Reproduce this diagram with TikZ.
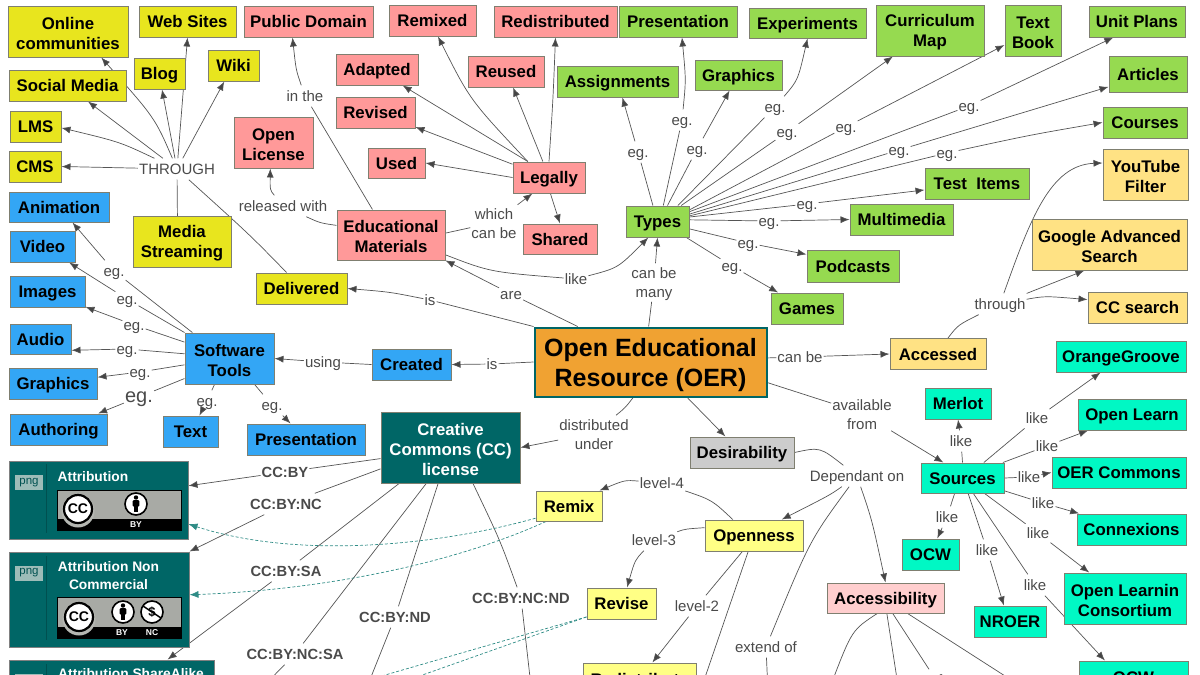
\documentclass[tikz,border=0pt]{standalone}
\usepackage{fontspec}
\setmainfont{Liberation Sans}
\usepackage{tikz}
\usetikzlibrary{positioning}
\usetikzlibrary{arrows.meta,backgrounds}

\definecolor{linegray}{HTML}{555555}
\definecolor{tipgray}{HTML}{444444}
\definecolor{lbltext}{HTML}{4A4A4A}
\definecolor{boxline}{HTML}{7F7F70}
\definecolor{ylwfill}{HTML}{E8E51E}
\definecolor{pnkfill}{HTML}{FF9999}
\definecolor{grnfill}{HTML}{96DA50}
\definecolor{palfill}{HTML}{FFE284}
\definecolor{cyafill}{HTML}{00F8C4}
\definecolor{blufill}{HTML}{33A6F5}
\definecolor{tealfill}{HTML}{006666}
\definecolor{tealdark}{HTML}{005050}
\definecolor{dashteal}{HTML}{2F8C86}
\definecolor{lemfill}{HTML}{FFFF85}
\definecolor{oerfill}{HTML}{F0A232}
\definecolor{rosefill}{HTML}{FFCECE}
\definecolor{pngfill}{HTML}{9DBCB8}
\definecolor{bdgfill}{HTML}{A8AAA5}

\newcommand{\boxfont}{\fontsize{16.8}{20}\selectfont\bfseries}
\newcommand{\lblfont}{\fontsize{15}{19}\selectfont}

\tikzset{
  sz/.style 2 args={minimum width=#1,minimum height=#2},
  evenlines/.style 2 args={execute at begin node={\rule{0pt}{#1pt}},execute at end node={\rule[-#2pt]{0pt}{#2pt}}},
  oerbox/.style={draw=boxline,line width=1pt,inner sep=0pt,align=center,font=\boxfont,text=black},
  oneln/.style={evenlines={17}{5}},
  ybox/.style={oerbox,fill=ylwfill},
  pbox/.style={oerbox,fill=pnkfill},
  gbox/.style={oerbox,fill=grnfill},
  obox/.style={oerbox,fill=palfill},
  cbox/.style={oerbox,fill=cyafill},
  bbox/.style={oerbox,fill=blufill},
  lbox/.style={oerbox,fill=lemfill},
  attbox/.style={draw=gray,line width=1pt,fill=tealfill,inner sep=0pt},
  atttitle/.style={text=white,inner sep=0pt,align=center,font=\fontsize{13.8}{17.5}\selectfont\bfseries},
  pnglbl/.style={fill=pngfill,text=tealdark,inner sep=0pt,sz={28}{15},font=\fontsize{11.5}{14}\selectfont},
  badge/.style={draw=black,line width=.8pt,fill=bdgfill,inner sep=0pt},
  bandtxt/.style={text=white,inner sep=0pt,font=\fontsize{8.5}{10}\selectfont\bfseries},
  twolb/.style={font=\lblfont,text=lbltext,inner sep=1pt,align=center},
  lbl/.style={twolb,evenlines={15}{4}},
  cclbl/.style={lbl,font=\fontsize{14.7}{19}\selectfont\bfseries},
  plain/.style={draw=linegray,line width=.7pt},
  link/.style={plain,-{Latex[length=9pt,width=7pt,fill=tipgray]}},
  dashplain/.style={draw=dashteal,line width=.7pt,dash pattern=on 3pt off 2pt},
  dashlink/.style={dashplain,-{Latex[length=9pt,width=7pt,fill=dashteal]}},
  ccmark/.pic={
    \fill[bdgfill!85!white] (0,2) circle[radius=16.5pt];
    \draw[black,line width=2.2pt,fill=white] (0,0) circle[radius=14pt];
    \node[inner sep=0pt,font=\fontsize{14}{14}\selectfont\bfseries] (-t) at (0,0) {CC};
  },
  bymark/.pic={
    \draw[black,line width=1.6pt,fill=white] (0,0) circle[radius=11pt];
    \fill[black] (0,-6.5) circle[radius=2.2pt];
    \fill[black,rounded corners=1pt] (-3.4,-3.8) rectangle (3.4,2.5);
    \fill[black] (-2,1) rectangle (2,8);
  },
  ncmark/.pic={
    \draw[black,line width=1.6pt,fill=white] (0,0) circle[radius=11pt];
    \node[inner sep=0pt,font=\fontsize{13}{13}\selectfont\bfseries] (-t) at (0,0) {\$};
    \draw[black,line width=1.4pt] (-9,-6) -- (9,6);
  }
}

\begin{document}
\begin{tikzpicture}[x=1pt,y=-1pt]
    \useasboundingbox (0,0) rectangle (1200,675);
    \clip (0,0) rectangle (1200,675);

    % through boxes
    \node[ybox,sz={120}{51}] (onl) at (68,31.5) {\rule{0pt}{16pt}Online\\communities};
    \node[ybox,oneln,sz={97}{31}] (web) at (187.5,21.5) {Web Sites};
    \node[ybox,oneln,sz={51}{31}] (blog) at (159.5,73.5) {Blog};
    \node[ybox,oneln,sz={51}{31}] (wiki) at (233.5,65.5) {Wiki};
    \node[ybox,oneln,sz={117}{31}] (soc) at (67.5,85.5) {Social Media};
    \node[ybox,oneln,sz={51}{31}] (lms) at (35.5,126.5) {LMS};
    \node[ybox,oneln,sz={52}{31}] (cms) at (35,166.5) {CMS};
    \node[ybox,sz={98}{51}] (med) at (182,241.5) {\rule{0pt}{16pt}Media\\Streaming};
    \node[ybox,oneln,sz={91}{31}] (del) at (301.5,288.5) {Delivered};

    % legal boxes
    \node[pbox,oneln,sz={129}{31}] (pub) at (308.5,21.5) {Public Domain};
    \node[pbox,oneln,sz={87}{31}] (remixed) at (432.5,20.5) {Remixed};
    \node[pbox,oneln,sz={123}{31}] (redis) at (555.5,21.5) {Redistributed};
    \node[pbox,oneln,sz={82}{31}] (adapted) at (377,69.5) {Adapted};
    \node[pbox,oneln,sz={79}{31}] (revised) at (375.5,112.5) {Revised};
    \node[pbox,oneln,sz={76}{31}] (reused) at (506,71.5) {Reused};
    \node[pbox,oneln,sz={57}{30}] (used) at (396.5,163) {Used};
    \node[pbox,sz={79}{51}] (openlic) at (273.5,142.5) {\rule{0pt}{16pt}Open\\License};
    \node[pbox,oneln,sz={72}{31}] (leg) at (549,177.5) {Legally};
    \node[pbox,oneln,sz={74}{30}] (shared) at (560,239) {Shared};
    \node[pbox,sz={108}{50}] (edu) at (391,235) {\rule{0pt}{16pt}Educational\\Materials};

    % type boxes
    \node[gbox,oneln,sz={118}{31}] (prest) at (678,21.5) {Presentation};
    \node[gbox,oneln,sz={117}{30}] (exper) at (807.5,23) {Experiments};
    \node[gbox,sz={108}{51}] (curr) at (930,30.5) {\rule{0pt}{16pt}Curriculum\\Map};
    \node[gbox,sz={56}{51}] (tbook) at (1033,30.5) {\rule{0pt}{16pt}Text\\Book};
    \node[gbox,oneln,sz={96}{31}] (unit) at (1137,21.5) {Unit Plans};
    \node[gbox,oneln,sz={78}{36}] (art) at (1148,74) {Articles};
    \node[gbox,oneln,sz={84}{31}] (cour) at (1145,122.5) {Courses};
    \node[gbox,oneln,sz={104}{31}] (test) at (977,183.5) {Test\ \ Items};
    \node[gbox,oneln,sz={103}{31}] (multi) at (901.5,219.5) {Multimedia};
    \node[gbox,oneln,sz={121}{31}] (assign) at (617.5,81.5) {Assignments};
    \node[gbox,oneln,sz={87}{30}] (graph) at (738.5,75) {Graphics};
    \node[gbox,oneln,sz={63}{31}] (types) at (657.5,221.5) {Types};
    \node[gbox,oneln,sz={92}{32}] (pod) at (853,266) {Podcasts};
    \node[gbox,oneln,sz={72}{31}] (games) at (807,308.5) {Games};

    % access boxes
    \node[obox,sz={85}{51}] (yt) at (1145.5,174.5) {\rule{0pt}{16pt}YouTube\\Filter};
    \node[obox,sz={155}{51}] (goog) at (1109.5,244.5) {\rule{0pt}{16pt}Google Advanced\\Search};
    \node[obox,oneln,sz={99}{31}] (ccs) at (1137.5,307.5) {CC search};
    \node[obox,oneln,sz={96}{31}] (acc) at (938,354) {Accessed};

    % source boxes
    \node[cbox,oneln,sz={130}{31}] (orange) at (1121,356.5) {OrangeGroove};
    \node[cbox,oneln,sz={108}{31}] (olearn) at (1132,414.5) {Open Learn};
    \node[cbox,oneln,sz={66}{31}] (merlot) at (958,403.5) {Merlot};
    \node[cbox,oneln,sz={83}{30}] (src) at (962.5,478) {Sources};
    \node[cbox,oneln,sz={134}{31}] (oerc) at (1119,472.5) {OER Commons};
    \node[cbox,oneln,sz={109}{31}] (conn) at (1131.5,529.5) {Connexions};
    \node[cbox,oneln,sz={57}{31}] (ocwa) at (930.5,554.5) {OCW};
    \node[cbox,sz={122}{51}] (olc) at (1125,598.5) {\rule{0pt}{16pt}Open Learnin\\Consortium};
    \node[cbox,oneln,sz={72}{31}] (nroer) at (1010,621.5) {NROER};
    \node[cbox,oneln,sz={109}{32}] (ocwb) at (1133.5,677) {OCW};

    % software boxes
    \node[bbox,oneln,sz={100}{30}] (anim) at (59,207) {Animation};
    \node[bbox,oneln,sz={65}{31}] (video) at (42.5,246.5) {Video};
    \node[bbox,oneln,sz={75}{31}] (img) at (47.5,291.5) {Images};
    \node[bbox,oneln,sz={61}{30}] (audio) at (40.5,339) {Audio};
    \node[bbox,oneln,sz={88}{31}] (grsw) at (53,383.5) {Graphics};
    \node[bbox,oneln,sz={97}{31}] (auth) at (58.5,429.5) {Authoring};
    \node[bbox,oneln,sz={55}{31}] (txt) at (190.5,431.5) {Text};
    \node[bbox,oneln,sz={118}{31}] (pressw) at (306,439.5) {Presentation};
    \node[bbox,sz={89}{51}] (sw) at (229.5,358.5) {\rule{0pt}{16pt}Software\\Tools};
    \node[bbox,oneln,sz={79}{31}] (crea) at (411.5,364.5) {Created};

    % centre
    \node[draw=tealfill,line width=2pt,fill=oerfill,inner sep=0pt,align=center,text=black,sz={232}{69},
          font=\fontsize{25}{30}\selectfont\bfseries] (oer) at (650.5,362) {\rule{0pt}{25pt}Open Educational\\Resource (OER)};
    \node[oerbox,fill=tealfill,text=white,sz={139}{71}] (lic) at (450.5,447.5) {\rule{0pt}{16pt}Creative\\Commons (CC)\\license};

    % desirability boxes
    \node[oerbox,oneln,fill=gray!40,sz={104}{31}] (des) at (742,452.5) {Desirability};
    \node[lbox,oneln,sz={66}{30}] (remix) at (569,506) {Remix};
    \node[lbox,oneln,sz={98}{31}] (open) at (754,535.5) {Openness};
    \node[lbox,oneln,sz={69}{31}] (revise) at (621.5,603.5) {Revise};
    \node[lbox,oneln,sz={113}{32}] (redi) at (639.5,679) {Redistribute};
    \node[oerbox,oneln,fill=rosefill,sz={117}{30}] (access) at (885.5,598) {Accessibility};

    % licence cards
    \node[attbox,sz={179}{78}] (atta) at (98.5,500) {};
    \node[attbox,sz={180}{95}] (attb) at (99,599.5) {};
    \node[attbox,sz={205}{100}] (attc) at (111.5,710) {};
    \draw[tealdark,line width=1pt] (46,464) -- (46,533);
    \draw[tealdark,line width=1pt] (46,556) -- (46,640);
    \draw[tealdark,line width=1pt] (46,664) -- (46,675);
    \node[pnglbl] (pnga) at (29,482.5) {png};
    \node[pnglbl] (pngb) at (29,573) {png};
    \node[pnglbl] (pngc) at (29,681) {png};
    \node[atttitle,anchor=west] (tita) at (57.5,476.5) {Attribution};
    \node[atttitle] (titb) at (108.5,575.5) {Attribution Non\\Commercial};
    \node[atttitle,anchor=west] (titc) at (58,674) {Attribution ShareAlike};

    \node[badge,sz={124}{40.5}] (bdga) at (119,510.5) {};
    \fill[black] (57,519) rectangle (181,531);
    \pic (cca) at (78,509) {ccmark};
    \pic (bya) at (136,504) {bymark};
    \node[bandtxt] (bytxta) at (136,525) {BY};

    \node[badge,sz={124}{40.5}] (bdgb) at (119,618) {};
    \fill[black] (57,627) rectangle (181,638.5);
    \pic (ccb) at (79,617) {ccmark};
    \pic (byb) at (123,612) {bymark};
    \pic (ncb) at (152,612) {ncmark};
    \node[bandtxt] (bytxtb) at (122,632.5) {BY};
    \node[bandtxt] (nctxtb) at (152,632.5) {NC};

    % labels
    \node[lbl] (thr) at (177,169) {THROUGH};
    \node[lbl] (inthe) at (305,96) {in the};
    \node[lbl] (rel) at (283,206) {released with};
    \node[twolb] (which) at (494,222.5) {\rule{0pt}{14pt}which\\can be};
    \node[lbl] (like) at (576,279) {like};
    \node[twolb] (many) at (654,282.5) {\rule{0pt}{14pt}can be\\many};
    \node[lbl] (isdel) at (430,300) {is};
    \node[lbl] (are) at (511,294) {are};
    \node[lbl] (iscrea) at (492,364) {is};
    \node[lbl] (using) at (323,362) {using};
    \node[twolb] (dist) at (594,433) {\rule{0pt}{14pt}distributed\\under};
    \node[lbl] (canbe) at (800,357) {can be};
    \node[lbl] (thru) at (1000,304) {through};
    \node[twolb] (avail) at (862,413) {\rule{0pt}{14pt}available\\from};
    \node[lbl] (dep) at (857,476) {Dependant on};
    \node[lbl] (lfour) at (662,483) {level-4};
    \node[lbl] (lthree) at (654,540) {level-3};
    \node[lbl] (ltwo) at (697,606) {level-2};
    \node[lbl] (ext) at (766,647) {extend of};
    \node[lbl] (ofa) at (936,680) {of};

    \node[lbl] (egan) at (114,271) {eg.};
    \node[lbl] (egvi) at (127,299) {eg.};
    \node[lbl] (egim) at (134,325) {eg.};
    \node[lbl] (egau) at (127,349) {eg.};
    \node[lbl] (eggr) at (140,372) {eg.};
    \node[lbl,font=\fontsize{20}{20}\selectfont] (egau2) at (139,397) {eg.};
    \node[lbl] (egtx) at (207,401) {eg.};
    \node[lbl] (egpr) at (272,405) {eg.};

    \node[lbl] (tyas) at (638,152) {eg.};
    \node[lbl] (typr) at (682,120) {eg.};
    \node[lbl] (tygr) at (697,149) {eg.};
    \node[lbl] (tyex) at (775,107) {eg.};
    \node[lbl] (tycu) at (787,132) {eg.};
    \node[lbl] (tytb) at (846,127) {eg.};
    \node[lbl] (tyun) at (969,106) {eg.};
    \node[lbl] (tyar) at (899,150) {eg.};
    \node[lbl] (tyco) at (947,153) {eg.};
    \node[lbl] (tyte) at (807,204) {eg.};
    \node[lbl] (tymu) at (769,221) {eg.};
    \node[lbl] (typo) at (748,243) {eg.};
    \node[lbl] (tyga) at (732,266) {eg.};

    \node[lbl] (lkme) at (961,441) {like};
    \node[lbl] (lkor) at (1037,418) {like};
    \node[lbl] (lkol) at (1047,446) {like};
    \node[lbl] (lkoe) at (1029,477) {like};
    \node[lbl] (lkco) at (1043,503) {like};
    \node[lbl] (lkoc) at (947,517) {like};
    \node[lbl] (lkcn) at (1038,533) {like};
    \node[lbl] (lknr) at (987,550) {like};
    \node[lbl] (lkow) at (1035,585) {like};

    \node[cclbl] (ccby) at (285,472) {CC:BY};
    \node[cclbl] (ccnc) at (286,504) {CC:BY:NC};
    \node[cclbl] (ccsa) at (286,571) {CC:BY:SA};
    \node[cclbl] (ccnd) at (395,617) {CC:BY:ND};
    \node[cclbl] (ccns) at (295,654) {CC:BY:NC:SA};
    \node[cclbl] (ccnn) at (521,598) {CC:BY:NC:ND};

    % free ends below the page
    \coordinate (endns) at (255,695);
    \coordinate (endnd) at (365,692);
    \coordinate (endnn) at (532,695);
    \coordinate (endop) at (700,692);
    \coordinate (endext) at (768,692);
    \coordinate (endda) at (832,682);
    \coordinate (endac) at (899,692);
    \coordinate (endfa) at (1030,692);
    \coordinate (endrva) at (340,688);
    \coordinate (endrvb) at (380,690);

    \begin{scope}[on background layer]
    \clip (0,0) rectangle (1200,675);

    % through
    \draw[link] (thr) .. controls (155,118) .. (onl.-38);
    \draw[link] (thr) -- (soc.-38);
    \draw[link] (thr) .. controls (120,142) .. (lms.-3);
    \draw[link] (thr) -- (cms.east);
    \draw[link] (thr) -- (blog.-81);
    \draw[link] (thr) -- (web.south);
    \draw[link] (thr) -- (wiki.-120);
    \draw[link] (thr) -- (med.-99);
    \draw[plain] (del.133) .. controls (250,235) .. (thr);

    % educational materials
    \draw[plain] (edu.126) -- (inthe);
    \draw[link] (inthe) .. controls (296,70) .. (pub.-135);
    \draw[plain] (edu.170) .. controls (320,223) .. (rel);
    \draw[link] (rel) .. controls (270,190) .. (openlic.-97);
    \draw[plain] (edu.2) -- (which);
    \draw[link] (which) -- (leg.-136);
    \draw[plain] (edu.-20) .. controls (490,272) .. (like);
    \draw[link] (like) .. controls (618,268) .. (types.-120);

    % legally
    \draw[link] (leg.143) .. controls (470,100) .. (remixed.-71);
    \draw[link] (leg.143) -- (adapted.-32);
    \draw[link] (leg.160) -- (revised.-20);
    \draw[link] (leg.west) -- (used.east);
    \draw[link] (leg.111) -- (reused.-66);
    \draw[link] (leg.north) .. controls (553,100) .. (redis.south);
    \draw[link] (leg.-85) -- (shared.north);

    % types
    \draw[plain] (types.106) -- (tyas);
    \draw[link] (tyas) -- (assign.-73);
    \draw[plain] (types.70) -- (typr);
    \draw[link] (typr) .. controls (686,80) .. (prest.-76);
    \draw[plain] (types.58) -- (tygr);
    \draw[link] (tygr) -- (graph.-120);
    \draw[plain] (types.38) -- (tyex);
    \draw[link] (tyex) .. controls (798,80) .. (exper.south);
    \draw[plain] (types.34) -- (tycu);
    \draw[link] (tycu) -- (curr.-145);
    \draw[plain] (types.20) -- (tytb);
    \draw[link] (tytb) -- (tbook.-153);
    \draw[plain] (types.17) -- (tyun);
    \draw[link] (tyun) -- (unit.-146);
    \draw[plain] (types.13) -- (tyar);
    \draw[link] (tyar) -- (art.-162);
    \draw[plain] (types.10) -- (tyco);
    \draw[link] (tyco) .. controls (1030,135) .. (cour.west);
    \draw[plain] (types.8) -- (tyte);
    \draw[link] (tyte) -- (test.-173);
    \draw[plain] (types.3) -- (tymu);
    \draw[link] (tymu) -- (multi.west);
    \draw[plain] (types.-13) -- (typo);
    \draw[link] (typo) -- (pod.166);
    \draw[plain] (types.-29) -- (tyga);
    \draw[link] (tyga) -- (games.151);

    % centre
    \draw[plain] (oer.93) -- (many);
    \draw[link] (many) -- (types.south);
    \draw[plain] (oer.154) -- (are);
    \draw[link] (are) -- (edu.-25);
    \draw[plain] (oer.north west) -- (isdel);
    \draw[link] (isdel) .. controls (390,292) .. (del.east);
    \draw[plain] (oer.west) -- (iscrea);
    \draw[link] (iscrea) -- (crea.east);
    \draw[plain] (crea.west) -- (using);
    \draw[link] (using) -- (sw.east);
    \draw[plain] (oer.-116) .. controls (625,408) .. (dist);
    \draw[link] (dist) -- (lic.east);
    \draw[link] (oer.-44) -- (des.136);
    \draw[plain] (oer.2) -- (canbe);
    \draw[link] (canbe) -- (acc.west);
    \draw[plain] (oer.-10) -- (avail);
    \draw[link] (avail) -- (src.141);

    % accessed
    \draw[plain] (acc.58) .. controls (958,325) .. (thru);
    \draw[link] (thru) -- (goog.-134);
    \draw[link] (thru) .. controls (1045,296) .. (ccs.171);
    \draw[link] (thru) .. controls (1030,220) and (1050,165) .. (yt.165);

    % software tools
    \draw[plain] (sw.145) -- (egan);
    \draw[link] (egan) -- (anim.-49);
    \draw[plain] (sw.150) -- (egvi);
    \draw[link] (egvi) -- (video.-31);
    \draw[plain] (sw.160) -- (egim);
    \draw[link] (egim) -- (img.-22);
    \draw[plain] (sw.174) -- (egau);
    \draw[link] (egau) -- (audio.-20);
    \draw[plain] (sw.188) -- (eggr);
    \draw[link] (eggr) -- (grsw.8);
    \draw[plain] (sw.-156) -- (egau2);
    \draw[link] (egau2) -- (auth.22);
    \draw[plain] (sw.-120) -- (egtx);
    \draw[link] (egtx) -- (txt.61);
    \draw[plain] (sw.-46) -- (egpr);
    \draw[link] (egpr) -- (pressw.134);

    % sources
    \draw[plain] (src.north) -- (lkme);
    \draw[link] (lkme) -- (merlot.south);
    \draw[plain] (src.36) -- (lkor);
    \draw[link] (lkor) -- (orange.-142);
    \draw[plain] (src.21) -- (lkol);
    \draw[link] (lkol) -- (olearn.-160);
    \draw[plain] (src.east) -- (lkoe);
    \draw[link] (lkoe) -- (oerc.west);
    \draw[plain] (src.-17) -- (lkco);
    \draw[link] (lkco) -- (conn.163);
    \draw[plain] (src.-117) -- (lkoc);
    \draw[link] (lkoc) -- (ocwa.67);
    \draw[plain] (src.-35) -- (lkcn);
    \draw[link] (lkcn) -- (olc.144);
    \draw[plain] (src.-70) -- (lknr);
    \draw[link] (lknr) -- (nroer.111);
    \draw[plain] (src.-55) -- (lkow);
    \draw[link] (lkow) -- (ocwb.150);

    % desirability
    \draw[plain] (des.east) .. controls (820,447) .. (dep);
    \draw[link] (dep) .. controls (830,495) .. (open.30);
    \draw[link] (dep) .. controls (872,520) .. (access.north);
    \draw[plain] (dep) .. controls (810,540) .. (ext);
    \draw[plain] (ext) -- (endext);
    \draw[plain] (open.143) .. controls (712,500) .. (lfour);
    \draw[link] (lfour) .. controls (625,480) .. (remix.27);
    \draw[plain] (open.171) .. controls (685,529) .. (lthree);
    \draw[link] (lthree) .. controls (635,560) .. (revise.71);
    \draw[plain] (open.-126) -- (ltwo);
    \draw[link] (ltwo) -- (redi.52);
    \draw[plain] (open.-110) -- (endop);
    \draw[plain] (access.-118) .. controls (852,630) .. (endda);
    \draw[plain] (access.-85) -- (endac);
    \draw[plain] (access.-65) -- (ofa);
    \draw[plain] (access.-35) -- (endfa);

    % licences
    \draw[plain] (lic.189) -- (ccby);
    \draw[link] (ccby) -- (atta.9);
    \draw[plain] (lic.197) -- (ccnc);
    \draw[link] (ccnc) -- (attb.north east);
    \draw[plain] (lic.-145) -- (ccsa);
    \draw[link] (ccsa) -- (attc.42);
    \draw[plain] (lic.-124) -- (ccns);
    \draw[plain] (ccns) -- (endns);
    \draw[plain] (lic.-109) -- (ccnd);
    \draw[plain] (ccnd) -- (endnd);
    \draw[plain] (lic.-58) .. controls (500,540) .. (ccnn);
    \draw[plain] (ccnn) -- (endnn);

    % dashed
    \draw[dashlink] (remix.200) .. controls (440,545) and (300,560) .. (atta.-15);
    \draw[dashlink] (remix.214) .. controls (450,565) and (320,590) .. (attb.3);
    \draw[dashplain] (revise.201) -- (endrva);
    \draw[dashplain] (revise.201) -- (endrvb);
    \end{scope}
\end{tikzpicture}
\end{document}
